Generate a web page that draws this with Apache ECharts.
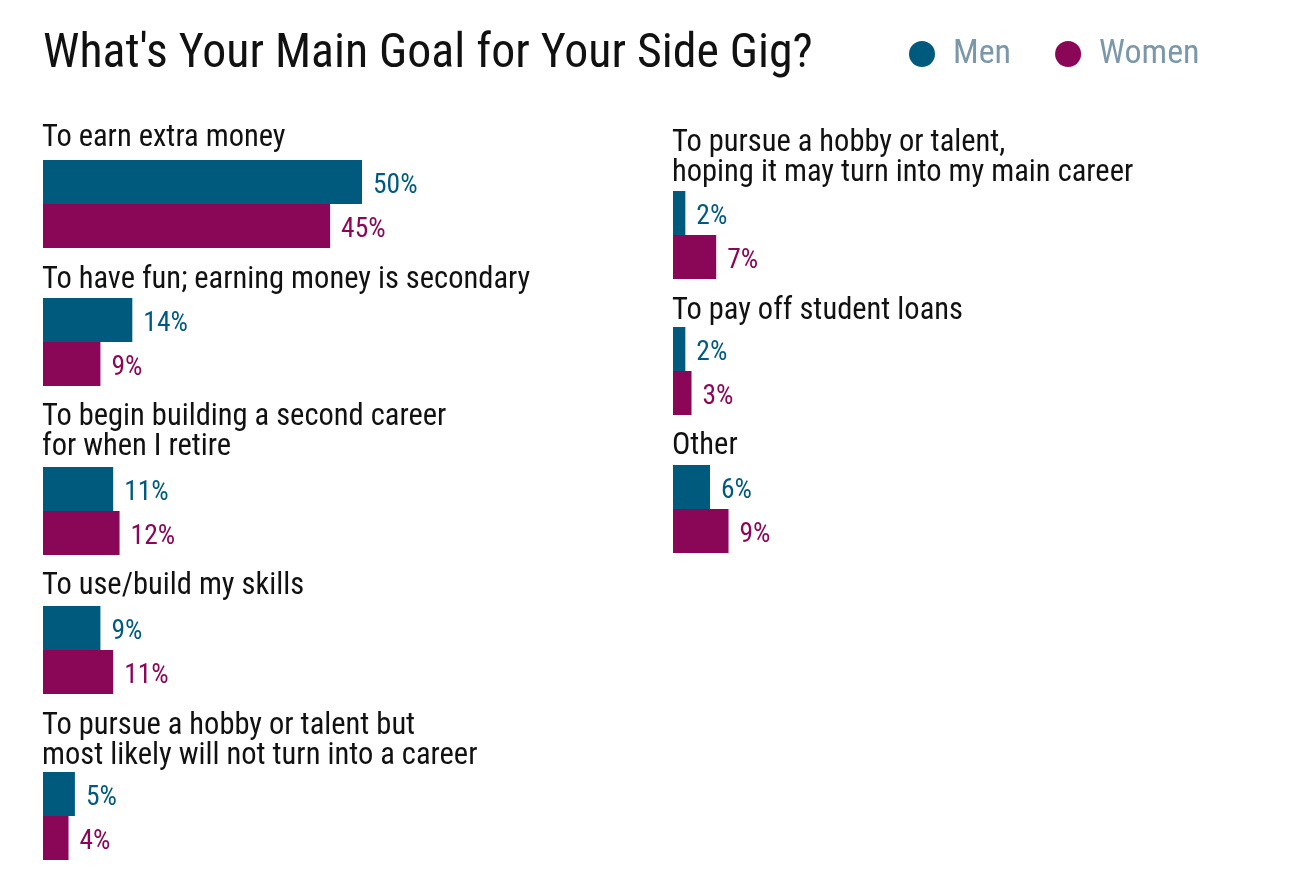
<!DOCTYPE html>
<html>
<head>
<meta charset="utf-8">
<script src="https://cdn.jsdelivr.net/npm/echarts@6/dist/echarts.min.js"></script>
<style>
  html, body { margin: 0; padding: 0; background: #fff; }
  #chart { width: 1290px; height: 878px; }
</style>
</head>
<body>
<div id="chart"></div>
<script>
// data
var categories = [
  "To earn extra money",
  "To have fun; earning money is secondary",
  "To begin building a second career\nfor when I retire",
  "To use/build my skills",
  "To pursue a hobby or talent but\nmost likely will not turn into a career",
  "To pursue a hobby or talent,\nhoping it may turn into my main career",
  "To pay off student loans",
  "Other"
];
var menValues = [50, 14, 11, 9, 5, 2, 2, 6];
var womenValues = [45, 9, 12, 11, 4, 7, 3, 9];
var seriesNames = ["Men", "Women"];

// layout (px) for each category block
var blockLeft = [43, 43, 43, 43, 43, 673, 673, 673];
var blockTop = [160, 298, 467, 606, 772, 191, 327, 465];
var labelTop = [123, 265, 402, 571, 711, 128, 296, 431];

var FONT = "'Roboto Condensed', 'Liberation Sans Narrow', 'DejaVu Sans Condensed', Roboto, sans-serif";
var colMen = "#005a7e";
var colWomen = "#8a0758";

function buildOption() {
  var grids = [], xAxes = [], yAxes = [], series = [], titles = [];
  titles.push({
    text: "What's Your Main Goal for Your Side Gig?",
    left: 43, top: 31, padding: 0,
    textStyle: { fontFamily: FONT, fontSize: 47.8, fontWeight: "normal", color: "#111" }
  });
  for (var i = 0; i < categories.length; i++) {
    grids.push({ left: blockLeft[i], top: blockTop[i], width: 638, height: 88 });
    xAxes.push({ type: "value", gridIndex: i, min: 0, max: 100, show: false });
    yAxes.push({ type: "category", gridIndex: i, data: [categories[i]], inverse: true, show: false });
    titles.push({
      text: categories[i],
      left: blockLeft[i] - 1, top: labelTop[i], padding: 0,
      textStyle: { fontFamily: FONT, fontSize: 30.5, lineHeight: 30, fontWeight: "normal", color: "#111" }
    });
    [menValues, womenValues].forEach(function (vals, k) {
      var c = k === 0 ? colMen : colWomen;
      series.push({
        type: "bar",
        name: seriesNames[k],
        xAxisIndex: i, yAxisIndex: i,
        data: [vals[i]],
        barWidth: 44,
        barGap: "0%",
        itemStyle: { color: c },
        label: {
          show: true, position: "right", distance: 11, offset: [0, 4],
          formatter: "{c}%",
          fontFamily: FONT, fontSize: 27.5, color: c
        },
        silent: true,
        animation: false
      });
    });
  }
  return {
    backgroundColor: "#fff",
    animation: false,
    color: [colMen, colWomen],
    title: titles,
    legend: {
      data: seriesNames,
      left: 909, top: 37, padding: 0,
      icon: "circle",
      itemWidth: 26, itemHeight: 26,
      itemGap: 44,
      textStyle: { fontFamily: FONT, fontSize: 34, color: "#7b98aa", padding: [0, 0, 0, 13] }
    },
    grid: grids,
    xAxis: xAxes,
    yAxis: yAxes,
    series: series
  };
}

var chart = echarts.init(document.getElementById("chart"));
chart.setOption(buildOption());
</script>
</body>
</html>
